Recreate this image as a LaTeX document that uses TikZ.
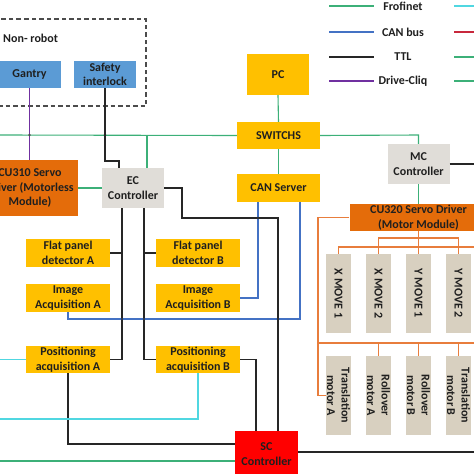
\documentclass[tikz,border=0pt]{standalone}
\usepackage{fontspec}
\setmainfont{Carlito}
\definecolor{cyel}{RGB}{255,192,0}
\definecolor{cbluebox}{RGB}{91,155,213}
\definecolor{corbox}{RGB}{228,108,10}
\definecolor{cgray}{RGB}{224,221,216}
\definecolor{ctan}{RGB}{216,208,192}
\definecolor{cred}{RGB}{255,0,0}
\definecolor{cgreen}{RGB}{60,176,120}
\definecolor{cbline}{RGB}{68,114,196}
\definecolor{cpurple}{RGB}{112,48,160}
\definecolor{ccyan}{RGB}{80,215,225}
\definecolor{corline}{RGB}{232,125,60}
\definecolor{credline}{RGB}{200,40,60}
\begin{document}
\begin{tikzpicture}[x=1pt,y=-1pt,
  box/.style={inner sep=0pt, align=center, font=\fontsize{12}{14.5}\selectfont\bfseries, text=black!88},
  ybox/.style={box, fill=cyel},
  bbox/.style={box, fill=cbluebox},
  obox/.style={box, fill=corbox},
  gbox/.style={box, fill=cgray},
  mbox/.style={box, fill=ctan, rotate=-90, minimum width=79, minimum height=25},
  lbl/.style={inner sep=0pt, font=\fontsize{12}{14.5}\selectfont\bfseries, text=black!88},
  pn/.style={draw=cgreen, line width=1.1pt},
  can/.style={draw=cbline, line width=1.1pt},
  ttl/.style={draw=black!85, line width=1.2pt},
  dq/.style={draw=cpurple, line width=1.1pt},
  cy/.style={draw=ccyan, line width=1.1pt},
  orl/.style={draw=corline, line width=1.1pt},
  rdl/.style={draw=credline, line width=1.1pt}
]
\useasboundingbox (0,0) rectangle (474,474);
\clip (0,0) rectangle (474,474);
\fill[white] (0,0) rectangle (474,474);

% legend
\draw[pn] (329,6) -- (374,6);
\draw[can] (329,32) -- (374,32);
\draw[ttl] (329,57) -- (374,57);
\draw[dq] (329,81) -- (374,81);
\node[lbl] (lg1) at (403,6) {Frofinet};
\node[lbl] (lg2) at (403,32) {CAN bus};
\node[lbl] (lg3) at (403,57) {TTL};
\node[lbl] (lg4) at (403,81) {Drive-Cliq};
\draw[cy] (454,6) -- (480,6);
\draw[rdl] (454,32) -- (480,32);
\draw[pn] (454,57) -- (480,57);
\draw[pn] (454,81) -- (480,81);

% non-robot dashed group
\draw[black!70, line width=1.2pt, dash pattern=on 4.5pt off 3pt] (-5,19) rectangle (146,106);
\node[lbl, anchor=west] (nonrobot) at (3,38) {Non- robot};

% nodes
\node[bbox, minimum width=63, minimum height=27] (gantry) at (29.5,74.5) {Gantry};
\node[bbox, minimum width=62, minimum height=27] (safety) at (105,74.5) {Safety\\interlock};
\node[ybox, minimum width=62, minimum height=41] (pc) at (278,74.5) {PC};
\node[ybox, minimum width=83, minimum height=27] (switchs) at (278.5,135.5) {SWITCHS};
\node[ybox, minimum width=83, minimum height=28] (cansrv) at (278.5,188) {CAN Server};
\node[gbox, minimum width=62, minimum height=40] (ec) at (133,188) {EC\\Controller};
\node[obox, minimum width=96, minimum height=56] (cu310) at (30,188) {CU310 Servo\\Driver (Motorless\\Module)};
\node[gbox, minimum width=62, minimum height=40] (mc) at (418.5,164) {MC\\Controller};
\node[obox, minimum width=138, minimum height=27] (cu320) at (418.5,217.5) {CU320 Servo Driver\\(Motor Module)};
\node[ybox, minimum width=84, minimum height=28] (fpa) at (68,253) {Flat panel\\detector A};
\node[ybox, minimum width=84, minimum height=28] (fpb) at (198,253) {Flat panel\\detector B};
\node[ybox, minimum width=84, minimum height=28] (iaa) at (68,298) {Image\\Acquisition A};
\node[ybox, minimum width=84, minimum height=28] (iab) at (198,298) {Image\\Acquisition B};
\node[ybox, minimum width=84, minimum height=27] (paa) at (68,359.5) {Positioning\\acquisition A};
\node[ybox, minimum width=84, minimum height=27] (pab) at (198,359.5) {Positioning\\acquisition B};
\node[box, fill=cred, minimum width=63, minimum height=46] (sc) at (266.5,454) {SC\\Controller};

\node[mbox] (xm1) at (338.5,293.5) {X MOVE 1};
\node[mbox] (xm2) at (378.5,293.5) {X MOVE 2};
\node[mbox] (ym1) at (418.5,293.5) {Y MOVE 1};
\node[mbox] (ym2) at (458.5,293.5) {Y MOVE 2};
\node[mbox] (tma) at (338.5,395.5) {Translation\\motor A};
\node[mbox] (rma) at (378.5,395.5) {Rollover\\motor A};
\node[mbox] (rmb) at (418.5,395.5) {Rollover\\motor B};
\node[mbox] (tmb) at (458.5,395.5) {Translation\\motor B};

% free ends
\coordinate (pnL) at (0,135);
\coordinate (mcR) at (480,164);
\coordinate (scR) at (480,452);
\coordinate (cyL1) at (0,359.5);
\coordinate (cyL2) at (0,419);
\coordinate (pnL2) at (0,461);

% Profinet (green)
\draw[pn] (pnL) -- (switchs.west);
\draw[pn] (147,135) -- ([xshift=14pt]ec.north);
\draw[pn] (cu310.east) -- (ec.west);
\draw[pn] (pc.south) -- (switchs.north);
\draw[pn] (switchs.south) -- (cansrv.north);
\draw[pn] (switchs.east) -- (418.5,135) -- (mc.north);
\draw[pn] (mc.south) -- (cu320.north);
\draw[pn] (pnL2) -- (sc.west |- pnL2);

% Drive-Cliq
\draw[dq] (gantry.south) -- (gantry.south |- cu310.north);

% TTL
\draw[ttl] (safety.south) -- (105,161) -- (119,161) -- ([xshift=-14pt]ec.north);
\draw[ttl] (mc.east) -- (mcR);
\draw[ttl] (ec.east) -- (182,188) -- (182,218) -- (278,218) -- (278 ,431);
\draw[ttl] ([xshift=-11pt]ec.south) -- (122,359.5) -- (paa.east);
\draw[ttl] (fpa.east) -- (122,253);
\draw[ttl] ([xshift=11pt]ec.south) -- (144,359.5) -- (pab.west);
\draw[ttl] (fpb.west) -- (144,253);
\draw[ttl] (pab.east) -- (256,359.5) -- (256,431);
\draw[ttl] (paa.south) -- (68,444) -- (sc.west |- 0,444);
\draw[ttl] (sc.east |- 0,452) -- (scR);

% CAN bus
\draw[can] ([xshift=-20.5pt]cansrv.south) -- (258,298) -- (iab.east);
\draw[can] ([xshift=21.5pt]cansrv.south) -- (300,319) -- (68,319) -- (iaa.south);

% cyan
\draw[cy] (paa.west) -- (cyL1);
\draw[cy] (pab.south) -- (198,419) -- (cyL2);

% orange (motor module)
\draw[orl] (cu320.south) -- (ym1.west);
\draw[orl] (xm2.west) -- (378.5,238) -- (458.5,238) -- (ym2.west);
\draw[orl] (xm1.west) -- (338.5,247) -- (480,247);
\draw[orl] (cu320.west) -- (318,217.5) -- (318,395.5) -- (tma.south);
\draw[orl] (318,343) -- (480,343);
\draw[orl] (rma.west) -- (378.5,343);
\draw[orl] (rmb.west) -- (418.5,343);
\draw[orl] (tmb.west) -- (458.5,343);

% junction dots
\fill[black!70] (29.5,135) circle (1.4);
\fill[black!85] (105,135) circle (1.4);
\fill[black!85] (258,218) circle (1.4);
\fill[black!85] (278,319) circle (1.4);
\fill[black!85] (122,319) circle (1.2);
\fill[black!85] (144,319) circle (1.2);
\fill[corline] (378.5,247) circle (1.5);
\fill[corline] (458.5,247) circle (1.5);
\end{tikzpicture}
\end{document}
